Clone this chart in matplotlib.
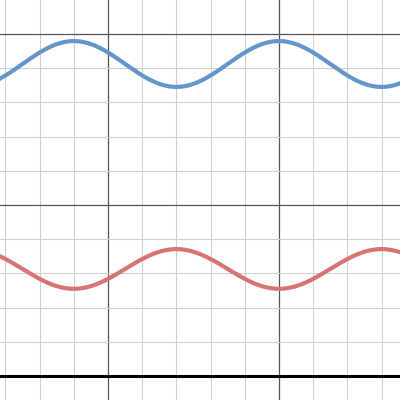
import matplotlib
matplotlib.use('Agg')
import matplotlib.pyplot as plt
import numpy as np

# curve parameters (grid units)
period = 6.0
phase = -1.0
blue_mid, blue_amp = 9.12, 0.67
red_mid, red_amp = 3.13, -0.58

x = np.linspace(-3.2, 8.6, 800)
w = 2 * np.pi * (x - phase) / period
blue = blue_mid + blue_amp * np.cos(w)
red = red_mid + red_amp * np.cos(w)

fig = plt.figure(figsize=(4, 4), dpi=100)
ax = fig.add_axes([0, 0, 1, 1])
ax.set_xlim(-3.16, 8.54)
ax.set_ylim(-0.70, 10.99)

for v in np.arange(-3, 9):
    ax.axvline(v, color="#555555" if v % 5 == 0 else "#d0d0d0",
               lw=0.9 if v % 5 == 0 else 0.8, zorder=0)
for v in np.arange(0, 11):
    ax.axhline(v, color="#555555" if v % 5 == 0 else "#d0d0d0",
               lw=0.9 if v % 5 == 0 else 0.8, zorder=0)
ax.axhline(0, color="black", lw=2.2, zorder=1)

ax.plot(x, blue, color="#6497c9", lw=3, solid_capstyle="round", zorder=3)
ax.plot(x, red, color="#d97474", lw=3, solid_capstyle="round", zorder=3)

ax.set_xticks([])
ax.set_yticks([])
for s in ax.spines.values():
    s.set_visible(False)

fig.savefig("out.png", dpi=100)
